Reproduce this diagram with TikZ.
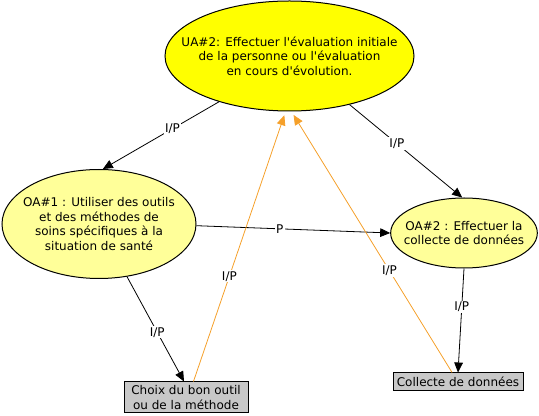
\documentclass[tikz,border=0pt]{standalone}
\usepackage{fontspec}
\newfontfamily\mapfont{DejaVu Sans}
\usetikzlibrary{shapes.geometric}
\usetikzlibrary{arrows.meta}

\definecolor{uayellow}{HTML}{FFFF00}
\definecolor{oayellow}{HTML}{FFFF99}
\definecolor{boxgray}{HTML}{C8C8C8}
\definecolor{iporange}{HTML}{F5A02A}

\begin{document}
\begin{tikzpicture}[
    x=0.75pt, y=-0.75pt,
    font=\mapfont\fontsize{9}{11}\selectfont,
    goal/.style={ellipse,draw,line width=0.75pt,align=center,inner xsep=-25pt,inner ysep=-5pt},
    result/.style={rectangle,draw,fill=boxgray,line width=0.75pt,align=center,inner sep=0pt},
    link/.style={-{Triangle[length=7.5pt,width=6.5pt]},line width=0.6pt},
    backlink/.style={link,draw=iporange,shorten >=3pt},
    tag/.style={fill=white,inner sep=1pt,text=black}
]
\useasboundingbox (0,0) rectangle (539,416);

% objectifs (ellipses)
\node[goal,fill=uayellow,minimum width=186.75pt,minimum height=82.5pt] (ua2) at (289.5,56)
    {UA\#2: Effectuer l'évaluation initiale\\ de la personne ou l'évaluation\\ en cours d'évolution.};
\node[goal,fill=oayellow,minimum width=145.5pt,minimum height=81.75pt] (oa1) at (99,224)
    {OA\#1 : Utiliser des outils\\ et des méthodes de\\ soins spécifiques à la\\ situation de santé};
\node[goal,fill=oayellow,minimum width=110pt,minimum height=52.5pt] (oa2) at (464,233)
    {OA\#2 : Effectuer la\\ collecte de données};

% résultats (rectangles gris)
\node[result,minimum width=93pt,minimum height=23.25pt] (choix) at (186,397.5)
    {Choix du bon outil\\ ou de la méthode};
\node[result,minimum width=97.5pt,minimum height=13.5pt] (collecte) at (458,382)
    {Collecte de données};

% liens
\draw[link] (ua2.213) -- node[tag,pos=0.4]{I/P} (oa1.86);
\draw[link] (ua2.-39) -- node[tag,pos=0.42]{I/P} (oa2.93);
\draw[link] (oa1.-1) -- node[tag,pos=0.43]{P} (oa2.west);
\draw[link] (oa1.-62) -- node[tag,pos=0.53]{I/P} (choix.97);
\draw[link] (oa2.south) -- node[tag,pos=0.37]{I/P} (collecte.north);

% retours vers UA#2
\draw[backlink] (choix.65) -- node[tag,pos=0.39]{I/P} (ua2.266);
\draw[backlink] (collecte.122) -- node[tag,pos=0.39]{I/P} (ua2.272);

\end{tikzpicture}
\end{document}
